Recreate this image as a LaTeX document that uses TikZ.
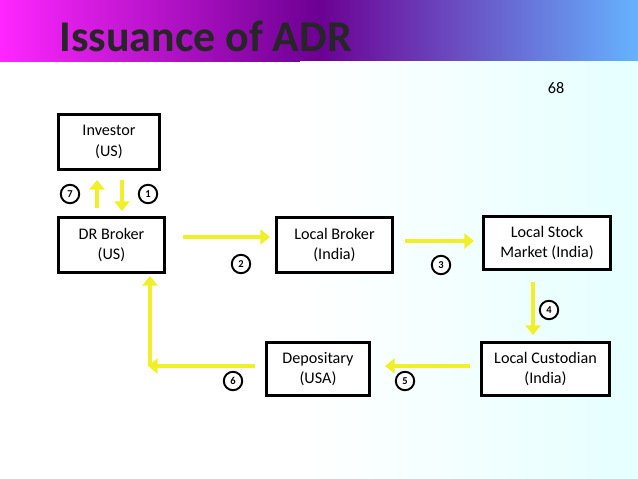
\documentclass[tikz,border=0pt]{standalone}
\usepackage{fontspec}
\setmainfont{Carlito}
\usetikzlibrary{arrows.meta}
\definecolor{ylw}{RGB}{240,240,40}
\begin{document}
\begin{tikzpicture}[x=0.02cm,y=-0.02cm,
 box/.style={draw=black,line width=1.7pt,fill=white,align=center,font=\fontsize{9.2}{11.5}\selectfont,inner sep=0pt},
 arr/.style={ylw,line width=2.8pt,-{Triangle[length=5.5pt,width=8.5pt]}},
 num/.style={circle,draw=black,line width=1.1pt,fill=white,inner sep=0pt,minimum size=10.5pt,font=\fontsize{6}{7}\selectfont\bfseries}]
\useasboundingbox (0,0) rectangle (638,479);
\fill[white] (0,0) rectangle (638,479);
\shade[left color=magenta!85!white,right color=cyan!50!blue!60!white,middle color=violet!85!blue] (0,0) rectangle (638,62);
\shade[left color=white,right color=cyan!10] (300,62) rectangle (638,479);
\node[anchor=west,font=\fontsize{25}{28}\selectfont\bfseries,text=black!85,inner sep=0pt] (title) at (59,36) {Issuance of ADR};
\node[font=\fontsize{9.2}{10}\selectfont] (pg) at (556,88) {68};
\node[box,minimum width=57.8pt,minimum height=31.8pt] (inv) at (109,142) {Investor\\(US)};
\node[box,minimum width=60.7pt,minimum height=31.8pt] (dr) at (111.5,245) {DR Broker\\(US)};
\node[box,minimum width=66.3pt,minimum height=31.8pt] (lb) at (334.5,245) {Local Broker\\(India)};
\node[box,minimum width=72.6pt,minimum height=30.6pt] (ls) at (547,243) {Local Stock\\Market (India)};
\node[box,minimum width=73.1pt,minimum height=30.6pt] (lc) at (545.5,369) {Local Custodian\\(India)};
\node[box,minimum width=59pt,minimum height=30.6pt] (dep) at (318,369) {Depositary\\(USA)};
\coordinate (a7s) at (97,208); \coordinate (a7e) at (97,180);
\coordinate (a1s) at (122,180); \coordinate (a1e) at (122,211);
\draw[arr] (a7s) -- (a7e);
\draw[arr] (a1s) -- (a1e);
\coordinate (a2s) at (183,237); \coordinate (a2e) at (270,237);
\draw[arr] (a2s) -- (a2e);
\coordinate (a3s) at (405,241); \coordinate (a3e) at (474,241);
\draw[arr] (a3s) -- (a3e);
\coordinate (a4s) at (533,282); \coordinate (a4e) at (533,335);
\draw[arr] (a4s) -- (a4e);
\coordinate (a5s) at (470,366); \coordinate (a5e) at (385,366);
\draw[arr] (a5s) -- (a5e);
\coordinate (a6s) at (255,366); \coordinate (a6e) at (148,366);
\draw[arr] (a6s) -- (a6e);
\coordinate (a8s) at (150,366); \coordinate (a8e) at (150,276);
\draw[arr] (a8s) -- (a8e);
\node[num] (n7) at (70,194) {7};
\node[num] (n1) at (148,194) {1};
\node[num] (n2) at (241,264) {2};
\node[num] (n3) at (441,265) {3};
\node[num] (n4) at (549,310) {4};
\node[num] (n5) at (405,381) {5};
\node[num] (n6) at (233,381) {6};
\end{tikzpicture}
\end{document}
